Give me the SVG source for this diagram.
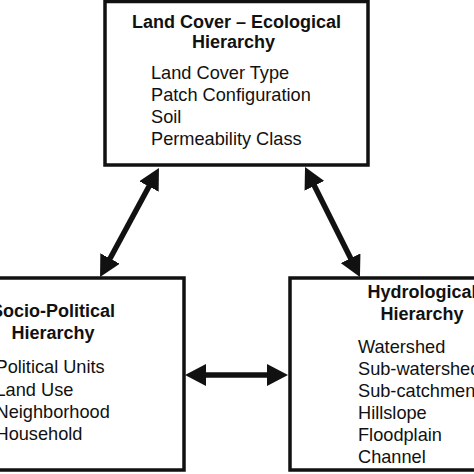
<svg xmlns="http://www.w3.org/2000/svg" width="474" height="474" viewBox="0 0 474 474">
<style>
.box{fill:#fff;stroke:#111;stroke-width:3.5}
.t{font-family:"Liberation Sans",Arial,sans-serif;font-size:18px;font-weight:bold;fill:#111;text-anchor:middle}
.i{font-family:"Liberation Sans",Arial,sans-serif;font-size:18.2px;fill:#111}
.c{stroke:#111;stroke-width:5.5;fill:none;marker-start:url(#ah);marker-end:url(#ah)}
</style>
<defs>
<marker id="ah" markerUnits="userSpaceOnUse" markerWidth="21" markerHeight="22" refX="11" refY="11" orient="auto-start-reverse" viewBox="0 0 21 22">
<path d="M0,0 L21,11 L0,22 z" fill="#111"/>
</marker>
</defs>
<rect width="474" height="474" fill="#fff"/>
<g id="land-cover">
<rect class="box" x="105" y="1.5" width="263" height="163.5"/>
<text class="t" x="236.5" y="28">Land Cover – Ecological</text>
<text class="t" x="233.5" y="48">Hierarchy</text>
<text class="i" x="151" y="79">Land Cover Type</text>
<text class="i" x="151" y="101">Patch Configuration</text>
<text class="i" x="151" y="123">Soil</text>
<text class="i" x="151" y="145">Permeability Class</text>
</g>
<g id="socio-political">
<rect class="box" x="-10" y="278" width="194" height="192"/>
<text class="t" x="53" y="317">Socio-Political</text>
<text class="t" x="53" y="339">Hierarchy</text>
<text class="i" x="-4.5" y="373">Political Units</text>
<text class="i" x="-4.5" y="396">Land Use</text>
<text class="i" x="-4.5" y="418">Neighborhood</text>
<text class="i" x="-4.5" y="440">Household</text>
</g>
<g id="hydrological">
<rect class="box" x="290" y="278" width="200" height="192"/>
<text class="t" x="422" y="298">Hydrological</text>
<text class="t" x="422" y="320">Hierarchy</text>
<text class="i" x="358" y="353">Watershed</text>
<text class="i" x="358" y="375">Sub-watershed</text>
<text class="i" x="358" y="397">Sub-catchment</text>
<text class="i" x="358" y="419">Hillslope</text>
<text class="i" x="358" y="441">Floodplain</text>
<text class="i" x="358" y="463">Channel</text>
</g>
<g id="connectors">
<line class="c" x1="154.2" y1="176.8" x2="104.8" y2="268.2"/>
<line class="c" x1="309.5" y1="175.9" x2="355.5" y2="268.1"/>
<line class="c" x1="195" y1="375" x2="278" y2="375"/>
</g>
</svg>
